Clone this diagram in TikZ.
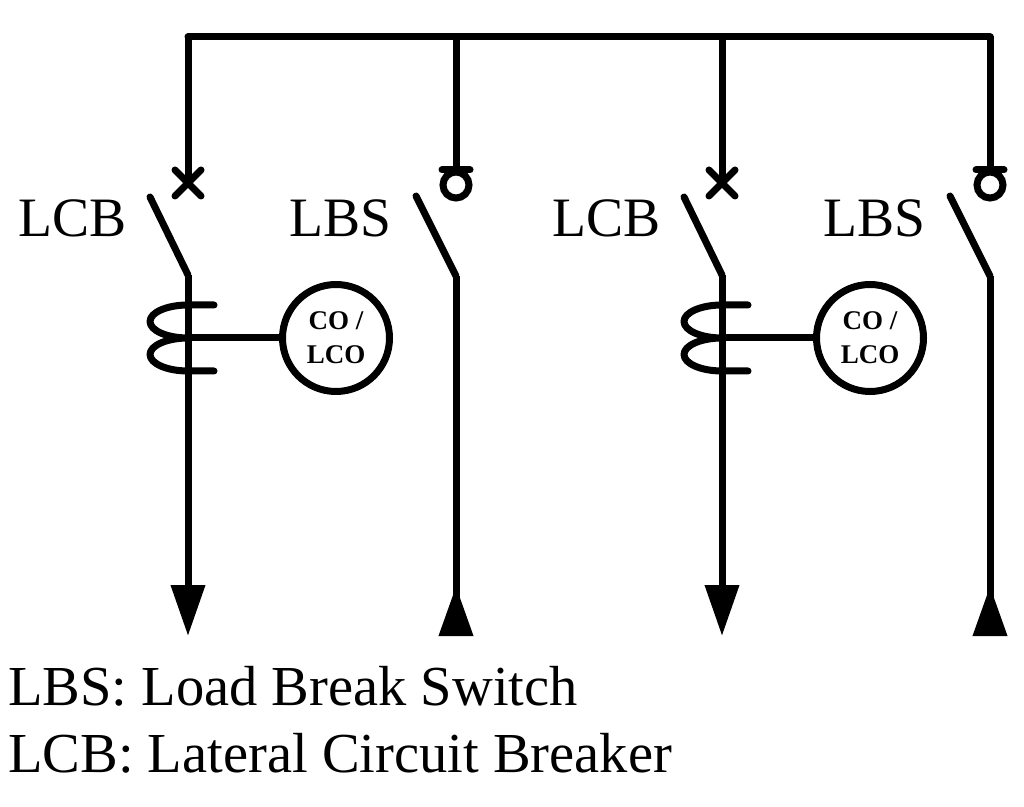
\documentclass[tikz,border=0pt]{standalone}
\usepackage{fontspec}
\setmainfont{Liberation Serif}
\usetikzlibrary{shapes.misc,positioning,calc,arrows.meta}

\begin{document}
\begin{tikzpicture}[
    x=1pt,y=1pt,
    wire/.style={line width=7pt,line cap=round,line join=round},
    brk/.style={cross out,draw,line width=7pt,line cap=round,minimum size=19pt,inner sep=0pt},
    sw/.style={circle,draw,line width=7pt,fill=white,inner sep=0pt,minimum size=26pt},
    relay/.style={circle,draw,line width=7pt,fill=white,inner sep=0pt,minimum size=107pt,align=center,
        font=\fontsize{27}{34}\selectfont\bfseries},
    lbl/.style={anchor=base west,inner sep=0pt,font=\fontsize{55.6}{60}\selectfont},
    leg/.style={lbl,font=\fontsize{56.5}{60}\selectfont},
    downhead/.style={-{Triangle[width=33pt,length=51pt]}},
    uphead/.style={-{Triangle[reversed,width=33pt,length=50pt]}}
    ]
        \useasboundingbox (0,0) rectangle (1024,806);
        % bus
        \coordinate (busa) at (188,769);
        \coordinate (busb) at (456,769);
        \coordinate (busc) at (722,769);
        \coordinate (busd) at (990,769);
        \draw [wire] (busa) -- (busd);

        % breaker feeders
        \foreach \n/\x/\t in {a/188/18,c/722/552} {
            \node [brk](x\n) at (\x,623) {};
            \coordinate (hinge\n) at (\x,531);
            \coordinate (blade\n) at (\x-38,609);
            \coordinate (end\n) at (\x,170);
            \coordinate (coilt\n) at (\x,501);
            \coordinate (coilm\n) at (\x,468);
            \coordinate (coilb\n) at (\x,435);
            \node [relay](co\n) at (\x+148,468) {CO /\\LCO};
            \node [lbl](lcb\n) at (\t,569) {LCB};
            \draw [wire] (bus\n) -- (x\n.center);
            \draw [wire] (blade\n) -- (hinge\n);
            \draw [wire,line cap=butt,downhead] (hinge\n) -- (end\n);
            \draw [wire] (\x+26,501) -- (coilt\n) arc[start angle=90,end angle=270,x radius=38,y radius=16.5]
                arc[start angle=90,end angle=270,x radius=38,y radius=16.5] -- (\x+26,435);
            \draw [wire] (coilm\n) -- (co\n);
        }

        % switch feeders
        \foreach \n/\x/\t in {b/456/289,d/990/823} {
            \node [sw](o\n) at (\x,621) {};
            \coordinate (hinge\n) at (\x,530);
            \coordinate (blade\n) at (\x-40,610);
            \coordinate (end\n) at (\x,170);
            \coordinate (barl\n) at (\x-14,636);
            \coordinate (barr\n) at (\x+14,636);
            \node [lbl](lbs\n) at (\t,569) {LBS};
            \draw [wire] (bus\n) -- (\x,636);
            \draw [wire] (barl\n) -- (barr\n);
            \draw [wire] (blade\n) -- (hinge\n);
            \draw [wire,line cap=butt,uphead] (hinge\n) -- (end\n);
        }

        % legend
        \node [leg](legs) at (8,101) {LBS: Load Break Switch};
        \node [leg](legc) at (8,34) {LCB: Lateral Circuit Breaker};
\end{tikzpicture}
\end{document}
